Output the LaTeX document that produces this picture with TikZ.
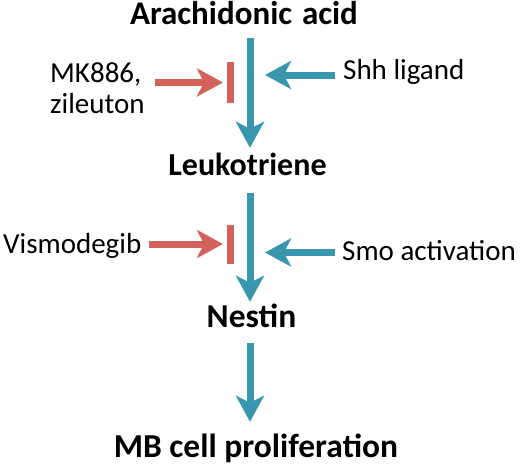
\documentclass[tikz,border=0pt]{standalone}
\usepackage{fontspec}
\setmainfont{Carlito}
\usetikzlibrary{arrows.meta}
\definecolor{pathblue}{RGB}{56,150,174}
\definecolor{inhred}{RGB}{210,98,90}
\tikzset{
  title/.style={font=\bfseries\fontsize{32}{34}\selectfont, inner sep=0pt, text height=22pt, text depth=6pt, anchor=base},
  label/.style={font=\fontsize{29}{31}\selectfont, inner sep=0pt, anchor=base west},
  bluearrow/.style={draw=pathblue, line width=7pt, -{Stealth[length=26pt,width=28pt,inset=7pt]}},
  redarrow/.style={draw=inhred, line width=7pt, -{Stealth[length=26pt,width=28pt,inset=7pt]}},
  redbar/.style={draw=inhred, line width=7pt}
}
\begin{document}
\begin{tikzpicture}[x=1pt,y=-1pt]
\useasboundingbox (0,0) rectangle (520,466);
% main chain
\node[title, font=\bfseries\fontsize{33}{35}\selectfont] (aa) at (244,24) {Arachidonic\hspace{0.3em}acid};
\node[title] (lt) at (247.5,175) {Leukotriene};
\node[title, font=\bfseries\fontsize{33.5}{35}\selectfont] (ne) at (251.5,327) {Nestin};
\node[title, font=\bfseries\fontsize{33.5}{35}\selectfont] (mb) at (256,457) {MB cell proliferation};
\coordinate (ax) at (250,0);
% side labels
\node[label, align=left] (mk) at (50,113) {MK886,\\zileuton};
\node[label] (sh) at (343,79.5) {Shh ligand};
\node[label] (vi) at (3,253) {Vismodegib};
\node[label] (sm) at (342,260) {Smo activation};
% targets
\coordinate (bar1) at (230,82.5);
\coordinate (bar2) at (230,244);
\coordinate (t1) at (265,75);
\coordinate (t2) at (265,252.5);
% vertical arrows
\draw[bluearrow, shorten <=8pt, shorten >=5pt] (aa.south -| ax) -- (lt.north -| ax);
\draw[bluearrow, shorten <=12pt, shorten >=3pt] (lt.south -| ax) -- (ne.north -| ax);
\draw[bluearrow, shorten <=10pt, shorten >=13pt] (ne.south -| ax) -- (mb.north -| ax);
% inhibitors
\draw[redarrow, shorten <=10pt, shorten >=7pt] (mk.east |- bar1) -- (bar1);
\draw[redbar] ([yshift=-20.5pt]bar1) -- ([yshift=20.5pt]bar1);
\draw[redarrow, shorten <=7pt, shorten >=7pt] (vi.east |- bar2) -- (bar2);
\draw[redbar] ([yshift=-19.5pt]bar2) -- ([yshift=19.5pt]bar2);
% activators
\draw[bluearrow, shorten <=8pt] (sh.west |- t1) -- (t1);
\draw[bluearrow, shorten <=7pt] (sm.west |- t2) -- (t2);
\end{tikzpicture}
\end{document}
